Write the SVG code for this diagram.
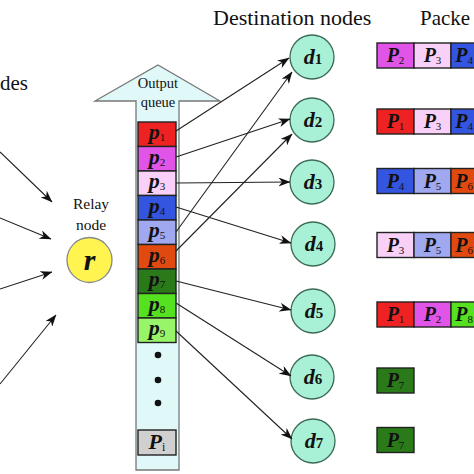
<svg xmlns="http://www.w3.org/2000/svg" width="474" height="474" viewBox="0 0 474 474">
<defs>
<marker id="ah" markerUnits="userSpaceOnUse" markerWidth="12" markerHeight="9" refX="11.5" refY="4.5" orient="auto">
<path d="M0,0 L12,4.5 L0,9 L3.5,4.5 z" fill="#111"/>
</marker>
</defs>
<style>
.t{font-family:"Liberation Serif","Times New Roman",serif;fill:#111}
.bi{font-weight:bold;font-style:italic}
.cell{stroke:#222;stroke-width:1.4}
.dn{fill:#a8f0d6;stroke:#3b6b55;stroke-width:1.3}
.ln{stroke:#222;stroke-width:1.1;fill:none;marker-end:url(#ah)}
</style>
<rect width="474" height="474" fill="#fff"/>
<text class="t" x="28" y="90" font-size="21" text-anchor="end">des</text>
<text class="t" x="213" y="25" font-size="22">Destination nodes</text>
<text class="t" x="420" y="25" font-size="21">Packe</text>

<g id="queue">
<polygon points="136,470 136,101 95,101 158,65 220,101 179,101 179,470" fill="#e0f8f8" stroke="#777" stroke-width="1.3"/>
<text class="t" x="158" y="88" font-size="14.5" text-anchor="middle">Output</text>
<text class="t" x="158" y="107" font-size="14.5" text-anchor="middle">queue</text>
</g>
<g id="p1"><rect class="cell" x="138" y="122" width="38" height="24.5" fill="#ee2222"/><text class="t bi" x="157" y="139" font-size="22" text-anchor="middle">p<tspan font-size="11" font-weight="normal" font-style="normal" dy="2">1</tspan></text></g>
<g id="p2"><rect class="cell" x="138" y="146.5" width="38" height="24.5" fill="#e055e8"/><text class="t bi" x="157" y="163.5" font-size="22" text-anchor="middle">p<tspan font-size="11" font-weight="normal" font-style="normal" dy="2">2</tspan></text></g>
<g id="p3"><rect class="cell" x="138" y="171" width="38" height="24.5" fill="#f8d0f8"/><text class="t bi" x="157" y="188" font-size="22" text-anchor="middle">p<tspan font-size="11" font-weight="normal" font-style="normal" dy="2">3</tspan></text></g>
<g id="p4"><rect class="cell" x="138" y="195.5" width="38" height="24.5" fill="#3355e0"/><text class="t bi" x="157" y="212.5" font-size="22" text-anchor="middle">p<tspan font-size="11" font-weight="normal" font-style="normal" dy="2">4</tspan></text></g>
<g id="p5"><rect class="cell" x="138" y="220" width="38" height="24.5" fill="#a0a8f0"/><text class="t bi" x="157" y="237" font-size="22" text-anchor="middle">p<tspan font-size="11" font-weight="normal" font-style="normal" dy="2">5</tspan></text></g>
<g id="p6"><rect class="cell" x="138" y="244.5" width="38" height="24.5" fill="#e04a10"/><text class="t bi" x="157" y="261.5" font-size="22" text-anchor="middle">p<tspan font-size="11" font-weight="normal" font-style="normal" dy="2">6</tspan></text></g>
<g id="p7"><rect class="cell" x="138" y="269" width="38" height="24.5" fill="#2a7a1a"/><text class="t bi" x="157" y="286" font-size="22" text-anchor="middle">p<tspan font-size="11" font-weight="normal" font-style="normal" dy="2">7</tspan></text></g>
<g id="p8"><rect class="cell" x="138" y="293.5" width="38" height="24.5" fill="#55e020"/><text class="t bi" x="157" y="310.5" font-size="22" text-anchor="middle">p<tspan font-size="11" font-weight="normal" font-style="normal" dy="2">8</tspan></text></g>
<g id="p9"><rect class="cell" x="138" y="318" width="38" height="24.5" fill="#98f468"/><text class="t bi" x="157" y="335" font-size="22" text-anchor="middle">p<tspan font-size="11" font-weight="normal" font-style="normal" dy="2">9</tspan></text></g>
<g id="dots" fill="#111"><circle cx="158" cy="355" r="3.3"/><circle cx="158" cy="380" r="3.3"/><circle cx="158" cy="403" r="3.3"/></g>
<g id="pi"><rect class="cell" x="138" y="430" width="38" height="25" fill="#d0d0d0"/><text class="t bi" x="157" y="449" font-size="22" text-anchor="middle">P<tspan font-size="12" font-weight="normal" font-style="normal" dy="2">i</tspan></text></g>

<g id="relay">
<circle cx="89.5" cy="260" r="22.5" fill="#fff450" stroke="#888" stroke-width="1.3"/>
<text class="t bi" x="89.5" y="270" font-size="30" text-anchor="middle">r</text>
<text class="t" x="91" y="209" font-size="15.5" text-anchor="middle">Relay</text>
<text class="t" x="91" y="230" font-size="15.5" text-anchor="middle">node</text>
</g>

<g id="d1"><circle class="dn" cx="312" cy="57" r="22"/><text class="t bi" x="313" y="64" font-size="22" text-anchor="middle">d<tspan font-size="15" font-style="normal">1</tspan></text></g>
<g id="d2"><circle class="dn" cx="312" cy="120" r="22"/><text class="t bi" x="313" y="127" font-size="22" text-anchor="middle">d<tspan font-size="15" font-style="normal">2</tspan></text></g>
<g id="d3"><circle class="dn" cx="312" cy="182" r="22"/><text class="t bi" x="313" y="189" font-size="22" text-anchor="middle">d<tspan font-size="15" font-style="normal">3</tspan></text></g>
<g id="d4"><circle class="dn" cx="313" cy="244" r="22"/><text class="t bi" x="314" y="251" font-size="22" text-anchor="middle">d<tspan font-size="15" font-style="normal">4</tspan></text></g>
<g id="d5"><circle class="dn" cx="313" cy="311" r="22"/><text class="t bi" x="314" y="318" font-size="22" text-anchor="middle">d<tspan font-size="15" font-style="normal">5</tspan></text></g>
<g id="d6"><circle class="dn" cx="312" cy="377" r="22"/><text class="t bi" x="313" y="384" font-size="22" text-anchor="middle">d<tspan font-size="15" font-style="normal">6</tspan></text></g>
<g id="d7"><circle class="dn" cx="313" cy="441" r="22"/><text class="t bi" x="314" y="448" font-size="22" text-anchor="middle">d<tspan font-size="15" font-style="normal">7</tspan></text></g>

<g id="connectors">
<line class="ln" x1="0" y1="152" x2="52" y2="202"/>
<line class="ln" x1="0" y1="218" x2="51" y2="239"/>
<line class="ln" x1="0" y1="289" x2="52" y2="272"/>
<line class="ln" x1="0" y1="384" x2="56" y2="315"/>
<line class="ln" x1="176" y1="131" x2="289" y2="58"/>
<line class="ln" x1="176" y1="232" x2="292" y2="72"/>
<line class="ln" x1="176" y1="157" x2="290" y2="119"/>
<line class="ln" x1="176" y1="251" x2="292" y2="134"/>
<line class="ln" x1="176" y1="183" x2="290" y2="182"/>
<line class="ln" x1="176" y1="207" x2="291" y2="243"/>
<line class="ln" x1="176" y1="281" x2="291" y2="310"/>
<line class="ln" x1="176" y1="303" x2="291" y2="376"/>
<line class="ln" x1="176" y1="331" x2="292" y2="439"/>
</g>

<g id="list-d1">
<rect class="cell" x="377" y="43" width="37" height="25" fill="#e055e8"/><text class="t bi" x="395.5" y="62" font-size="20" text-anchor="middle">P<tspan font-size="11" font-weight="normal" font-style="normal" dy="2">2</tspan></text>
<rect class="cell" x="414" y="43" width="37" height="25" fill="#f8d0f8"/><text class="t bi" x="432.5" y="62" font-size="20" text-anchor="middle">P<tspan font-size="11" font-weight="normal" font-style="normal" dy="2">3</tspan></text>
<rect class="cell" x="451" y="43" width="37" height="25" fill="#3355e0"/><text class="t bi" x="473" y="62" font-size="20" text-anchor="end">P<tspan font-size="11" font-weight="normal" font-style="normal" dy="2">4</tspan></text>
</g>
<g id="list-d2">
<rect class="cell" x="377" y="109" width="37" height="25" fill="#ee2222"/><text class="t bi" x="395.5" y="128" font-size="20" text-anchor="middle">P<tspan font-size="11" font-weight="normal" font-style="normal" dy="2">1</tspan></text>
<rect class="cell" x="414" y="109" width="37" height="25" fill="#f8d0f8"/><text class="t bi" x="432.5" y="128" font-size="20" text-anchor="middle">P<tspan font-size="11" font-weight="normal" font-style="normal" dy="2">3</tspan></text>
<rect class="cell" x="451" y="109" width="37" height="25" fill="#3355e0"/><text class="t bi" x="473" y="128" font-size="20" text-anchor="end">P<tspan font-size="11" font-weight="normal" font-style="normal" dy="2">4</tspan></text>
</g>
<g id="list-d3">
<rect class="cell" x="377" y="168.5" width="37" height="25" fill="#3355e0"/><text class="t bi" x="395.5" y="187.5" font-size="20" text-anchor="middle">P<tspan font-size="11" font-weight="normal" font-style="normal" dy="2">4</tspan></text>
<rect class="cell" x="414" y="168.5" width="37" height="25" fill="#a0a8f0"/><text class="t bi" x="432.5" y="187.5" font-size="20" text-anchor="middle">P<tspan font-size="11" font-weight="normal" font-style="normal" dy="2">5</tspan></text>
<rect class="cell" x="451" y="168.5" width="37" height="25" fill="#e04a10"/><text class="t bi" x="473" y="187.5" font-size="20" text-anchor="end">P<tspan font-size="11" font-weight="normal" font-style="normal" dy="2">6</tspan></text>
</g>
<g id="list-d4">
<rect class="cell" x="377" y="232.5" width="37" height="25" fill="#f8d0f8"/><text class="t bi" x="395.5" y="251.5" font-size="20" text-anchor="middle">P<tspan font-size="11" font-weight="normal" font-style="normal" dy="2">3</tspan></text>
<rect class="cell" x="414" y="232.5" width="37" height="25" fill="#a0a8f0"/><text class="t bi" x="432.5" y="251.5" font-size="20" text-anchor="middle">P<tspan font-size="11" font-weight="normal" font-style="normal" dy="2">5</tspan></text>
<rect class="cell" x="451" y="232.5" width="37" height="25" fill="#e04a10"/><text class="t bi" x="473" y="251.5" font-size="20" text-anchor="end">P<tspan font-size="11" font-weight="normal" font-style="normal" dy="2">6</tspan></text>
</g>
<g id="list-d5">
<rect class="cell" x="377" y="302" width="37" height="25" fill="#ee2222"/><text class="t bi" x="395.5" y="321" font-size="20" text-anchor="middle">P<tspan font-size="11" font-weight="normal" font-style="normal" dy="2">1</tspan></text>
<rect class="cell" x="414" y="302" width="37" height="25" fill="#e055e8"/><text class="t bi" x="432.5" y="321" font-size="20" text-anchor="middle">P<tspan font-size="11" font-weight="normal" font-style="normal" dy="2">2</tspan></text>
<rect class="cell" x="451" y="302" width="37" height="25" fill="#55e020"/><text class="t bi" x="473" y="321" font-size="20" text-anchor="end">P<tspan font-size="11" font-weight="normal" font-style="normal" dy="2">8</tspan></text>
</g>
<g id="list-d6">
<rect class="cell" x="377" y="368" width="37" height="25" fill="#2a7a1a"/><text class="t bi" x="395.5" y="387" font-size="20" text-anchor="middle">P<tspan font-size="11" font-weight="normal" font-style="normal" dy="2">7</tspan></text>
</g>
<g id="list-d7">
<rect class="cell" x="377" y="427.5" width="37" height="25" fill="#2a7a1a"/><text class="t bi" x="395.5" y="446.5" font-size="20" text-anchor="middle">P<tspan font-size="11" font-weight="normal" font-style="normal" dy="2">7</tspan></text>
</g>
</svg>
